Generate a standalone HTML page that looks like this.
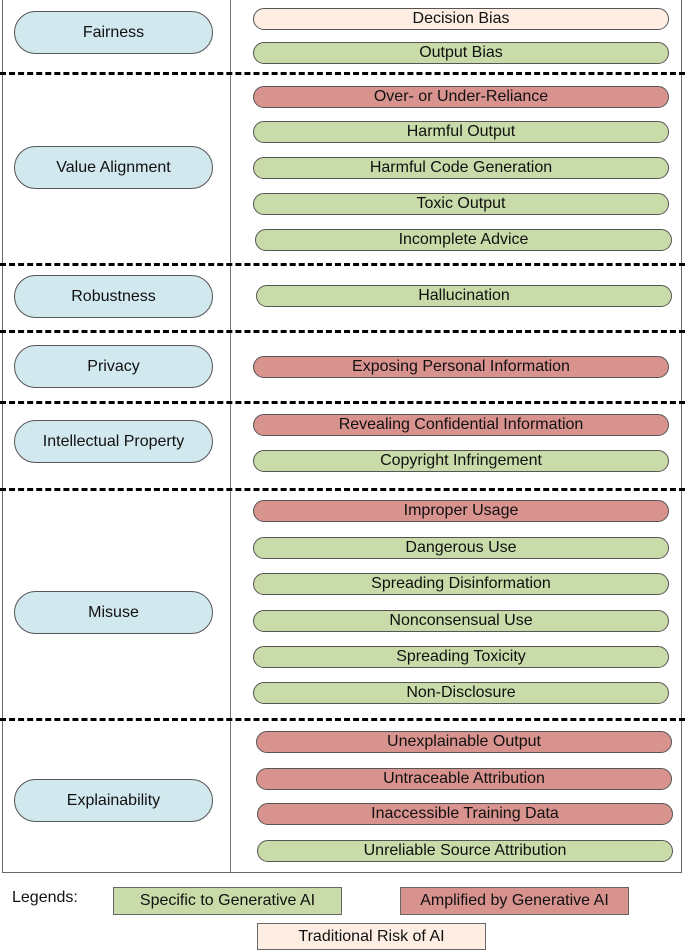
<!DOCTYPE html>
<html><head><meta charset="utf-8"><style>
body{margin:0;width:685px;height:950px;background:#fff;position:relative;font-family:"Liberation Sans",sans-serif;color:#111;overflow:hidden}
.box{position:absolute;left:2px;top:-1px;width:680px;height:874px;border:1px solid #666;box-sizing:border-box}
.vd{position:absolute;left:230px;top:0;width:1px;height:873px;background:#777}
.d{position:absolute;left:0;width:685px;height:0;border-top:3px dashed #000}
.l{position:absolute;left:14px;width:199px;height:43px;border:1px solid #555;border-radius:22px;background:#d1e8ee;box-sizing:border-box;display:flex;align-items:center;justify-content:center;font-size:16px}
.r{position:absolute;height:22px;border:1px solid #555;border-radius:11px;box-sizing:border-box;display:flex;align-items:center;justify-content:center;font-size:16px}
.g{background:#c9dba8}.rd{background:#d9938f}.b{background:#fdede2}
.lg{position:absolute;border:1px solid #666;box-sizing:border-box;display:flex;align-items:center;justify-content:center;font-size:16px;height:28px;width:229px}
</style></head><body>
<div class="box"></div><div class="vd"></div>
<div class="d" style="top:72px"></div>
<div class="d" style="top:263px"></div>
<div class="d" style="top:330px"></div>
<div class="d" style="top:401px"></div>
<div class="d" style="top:488px"></div>
<div class="d" style="top:718px"></div>

<div class="l" style="top:11px">Fairness</div>
<div class="l" style="top:146px">Value Alignment</div>
<div class="l" style="top:275px">Robustness</div>
<div class="l" style="top:345px">Privacy</div>
<div class="l" style="top:420px">Intellectual Property</div>
<div class="l" style="top:591px">Misuse</div>
<div class="l" style="top:779px">Explainability</div>

<div class="r b" style="left:253px;width:416px;top:8px">Decision Bias</div>
<div class="r g" style="left:253px;width:416px;top:42px">Output Bias</div>
<div class="r rd" style="left:253px;width:416px;top:86px">Over- or Under-Reliance</div>
<div class="r g" style="left:253px;width:416px;top:121px">Harmful Output</div>
<div class="r g" style="left:253px;width:416px;top:157px">Harmful Code Generation</div>
<div class="r g" style="left:253px;width:416px;top:193px">Toxic Output</div>
<div class="r g" style="left:255px;width:417px;top:229px">Incomplete Advice</div>
<div class="r g" style="left:256px;width:416px;top:285px">Hallucination</div>
<div class="r rd" style="left:253px;width:416px;top:356px">Exposing Personal Information</div>
<div class="r rd" style="left:253px;width:416px;top:414px">Revealing Confidential Information</div>
<div class="r g" style="left:253px;width:416px;top:450px">Copyright Infringement</div>
<div class="r rd" style="left:253px;width:416px;top:500px">Improper Usage</div>
<div class="r g" style="left:253px;width:416px;top:537px">Dangerous Use</div>
<div class="r g" style="left:253px;width:416px;top:573px">Spreading Disinformation</div>
<div class="r g" style="left:253px;width:416px;top:610px">Nonconsensual Use</div>
<div class="r g" style="left:253px;width:416px;top:646px">Spreading Toxicity</div>
<div class="r g" style="left:253px;width:416px;top:682px">Non-Disclosure</div>
<div class="r rd" style="left:256px;width:416px;top:731px">Unexplainable Output</div>
<div class="r rd" style="left:256px;width:416px;top:768px">Untraceable Attribution</div>
<div class="r rd" style="left:257px;width:416px;top:803px">Inaccessible Training Data</div>
<div class="r g" style="left:257px;width:416px;top:840px">Unreliable Source Attribution</div>

<div style="position:absolute;left:12px;top:889px;font-size:16px">Legends:</div>
<div class="lg g" style="left:113px;top:887px">Specific to Generative AI</div>
<div class="lg rd" style="left:400px;top:887px">Amplified by Generative AI</div>
<div class="lg b" style="left:257px;top:923px;height:27px">Traditional Risk of AI</div>
</body></html>
